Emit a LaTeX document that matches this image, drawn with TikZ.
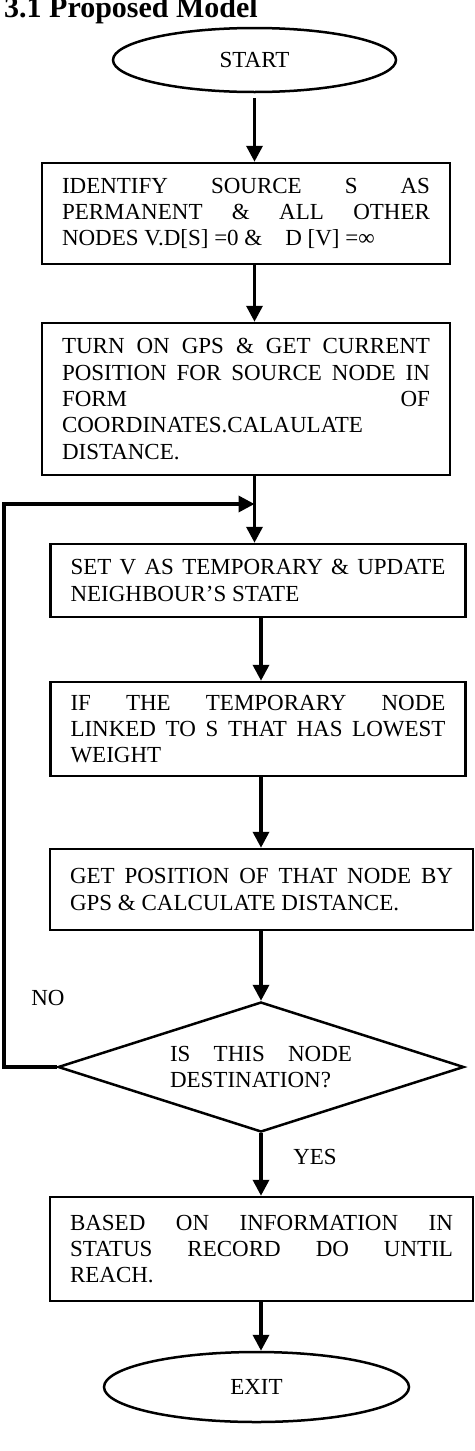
\documentclass[tikz,border=0pt]{standalone}
\usepackage{fontspec}
\setmainfont{Liberation Serif}
\usetikzlibrary{arrows.meta,positioning,shapes.geometric}
\setlength{\parindent}{0pt}
\hyphenpenalty=10000
\exhyphenpenalty=10000

\begin{document}
\begin{tikzpicture}[x=1pt, y=-1pt, >={Triangle[length=16pt,width=16pt]},
  font=\fontsize{23}{26.3}\selectfont,
  startstop/.style={draw, ellipse, line width=2.5pt, inner sep=0pt},
  process/.style={draw, rectangle, line width=2.5pt, inner xsep=20pt, inner ysep=0pt, text width=#1, align=justify},
  decision/.style={draw, diamond, aspect=3.12, line width=2.5pt, inner sep=0pt, text width=182pt, align=justify},
  flow/.style={->, line width=3.5pt, line join=miter}]
\useasboundingbox (0,0) rectangle (474,1451);
\node (title) [anchor=base east, inner sep=0pt, font=\fontsize{30}{36}\selectfont\bfseries] at (258,17.5) {3.1 Proposed Model};
\node (start) [startstop, minimum width=283pt, minimum height=64pt] at (254.5,60) {START};
\node (B1) [process=368pt, minimum height=101pt, below of=start, node distance=153.5pt, xshift=-8.5pt]
  {IDENTIFY SOURCE S AS\linebreak PERMANENT \& ALL OTHER\linebreak NODES V.D[S] =0 \&\quad D [V] =∞};
\node (B2) [process=368pt, minimum height=152pt, below of=B1, node distance=185.5pt]
  {TURN ON GPS \& GET CURRENT\linebreak POSITION FOR SOURCE NODE IN\linebreak FORM OF\linebreak COORDINATES.CALAULATE\\ DISTANCE.};
\node (B3) [process=375pt, minimum height=73pt, below of=B2, node distance=181.5pt, xshift=12pt]
  {SET V AS TEMPORARY \& UPDATE\linebreak NEIGHBOUR'S STATE};
\node (B4) [process=375pt, minimum height=94pt, below of=B3, node distance=148.5pt]
  {IF THE TEMPORARY NODE\linebreak LINKED TO S THAT HAS LOWEST\linebreak WEIGHT};
\node (B5) [process=383pt, minimum height=81pt, below of=B4, node distance=160.5pt, xshift=3.5pt]
  {GET POSITION OF THAT NODE BY\linebreak GPS \& CALCULATE DISTANCE.};
\node (D) [decision, minimum width=406pt, minimum height=130pt, below of=B5, node distance=177.5pt, xshift=-0.5pt]
  {IS THIS NODE\linebreak DESTINATION?};
\node (B6) [process=383pt, minimum height=104pt, below of=D, node distance=182pt, xshift=0.5pt]
  {BASED ON INFORMATION IN\linebreak STATUS RECORD DO UNTIL\linebreak REACH.};
\node (exit) [startstop, minimum width=305pt, minimum height=70pt, below of=B6, node distance=138pt, xshift=-5pt] {EXIT};
\node (no) at (48,998) {NO};
\node (yes) at (315,1157) {YES};
\coordinate (J) at (254.5,504);
\coordinate (L) at (4,504);
% main flow
\draw[flow] ([yshift=-5pt]start.south) -- (B1.north -| start);
\draw[flow] (B1.south -| start) -- (B2.north -| start);
\draw[flow] (B2.south -| start) -- (B3.north -| start);
\draw[flow] (B3.south -| D) -- (B4.north -| D);
\draw[flow] (B4.south -| D) -- (B5.north -| D);
\draw[flow] (B5.south -| D) -- (D.north);
\draw[flow] (D.south) -- (B6.north -| D);
\draw[flow] (B6.south -| D) -- (exit.north -| D);
% loop back
\draw[flow] (D.west) -| (L) -- (J);
\end{tikzpicture}
\end{document}
